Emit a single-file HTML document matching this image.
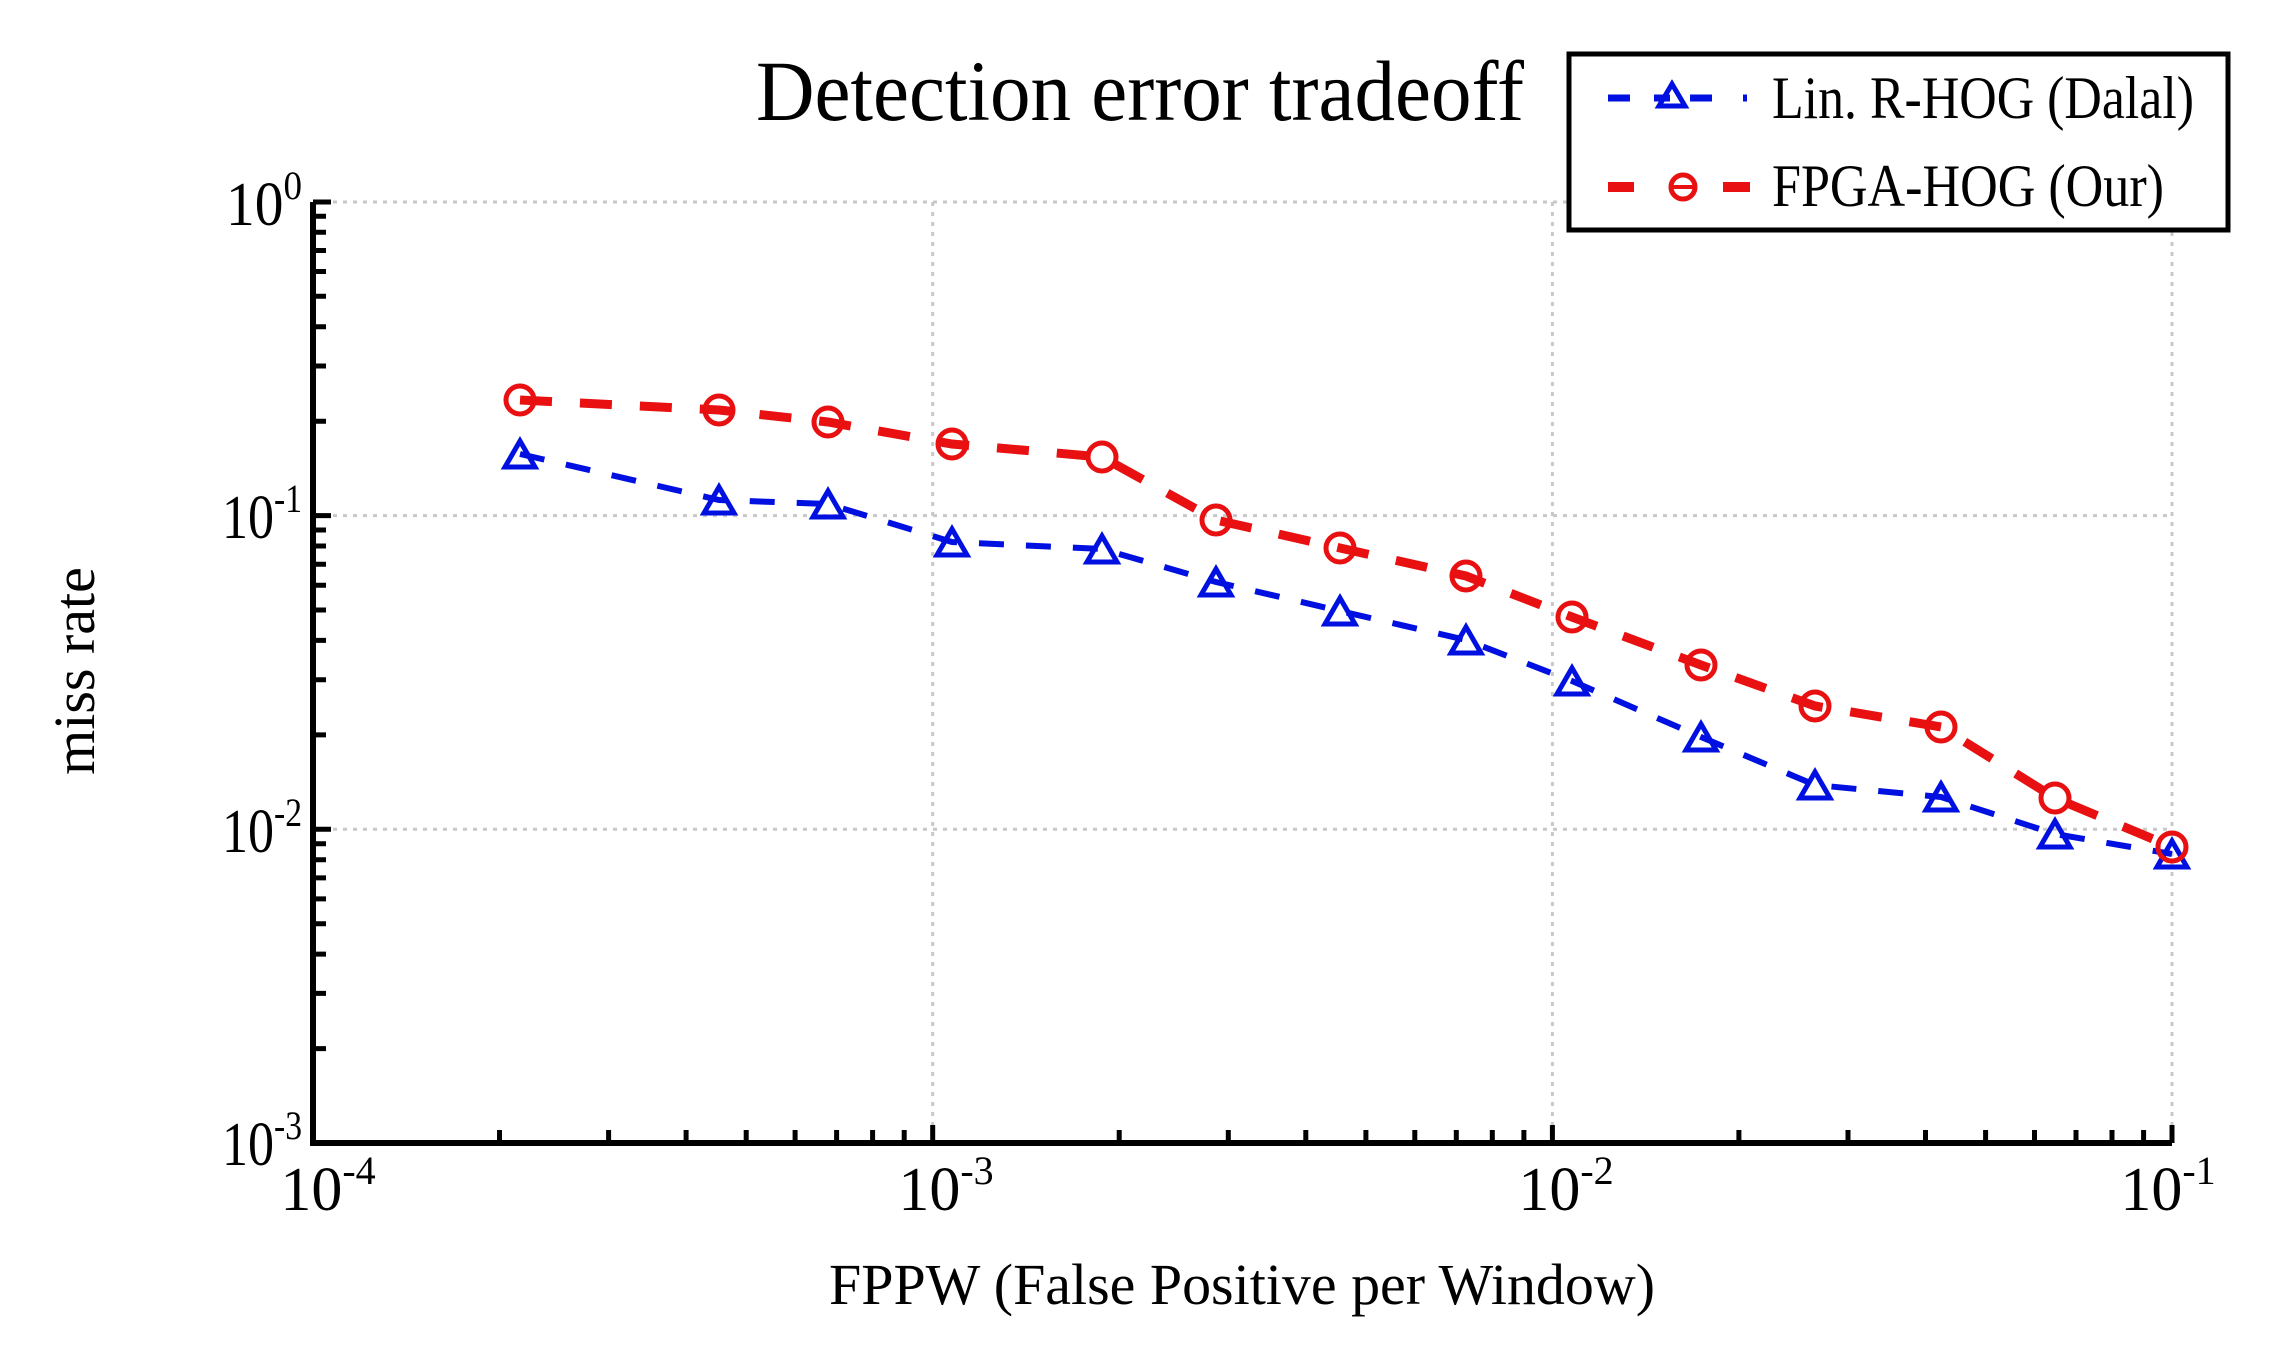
<!DOCTYPE html>
<html><head><meta charset="utf-8"><style>html,body{margin:0;padding:0;background:#fff;}svg{display:block;}</style></head>
<body>
<svg width="2295" height="1356" viewBox="0 0 2295 1356" xmlns="http://www.w3.org/2000/svg" font-family="'Liberation Serif', serif">
<rect width="2295" height="1356" fill="#fff"/>
<g stroke="#c8c8c8" stroke-width="3" stroke-dasharray="4,6">
<line x1="932.7" y1="202" x2="932.7" y2="1143"/>
<line x1="1552.4" y1="202" x2="1552.4" y2="1143"/>
<line x1="2172" y1="202" x2="2172" y2="1143"/>
<line x1="313" y1="202" x2="2172" y2="202"/>
<line x1="313" y1="515.6" x2="2172" y2="515.6"/>
<line x1="313" y1="829.3" x2="2172" y2="829.3"/>
</g>
<g stroke="#000" stroke-width="5">
<path d="M499.5 1143v-13M608.6 1143v-13M686.1 1143v-13M746.2 1143v-13M795.1 1143v-13M836.6 1143v-13M872.6 1143v-13M904.2 1143v-13M932.7 1143v-18
M1119.2 1143v-13M1228.3 1143v-13M1305.8 1143v-13M1365.9 1143v-13M1414.8 1143v-13M1456.3 1143v-13M1492.3 1143v-13M1523.9 1143v-13M1552.4 1143v-18
M1738.9 1143v-13M1848 1143v-13M1925.5 1143v-13M1985.6 1143v-13M2034.5 1143v-13M2076 1143v-13M2112 1143v-13M2143.6 1143v-13M2172 1143v-18"/>
<path d="M313 1048.6h13M313 993.4h13M313 954.1h13M313 923.7h13M313 898.9h13M313 877.9h13M313 859.7h13M313 843.7h13M313 829.3h18
M313 734.9h13M313 679.7h13M313 640.4h13M313 610h13M313 585.2h13M313 564.2h13M313 546h13M313 530h13M313 515.6h18
M313 421.2h13M313 366h13M313 326.7h13M313 296.3h13M313 271.5h13M313 250.5h13M313 232.3h13M313 216.3h13M313 202h18"/>
</g>
<path d="M313 202V1143H2172" fill="none" stroke="#000" stroke-width="6"/>
<g font-size="62" fill="#000" text-anchor="end">
<text x="302" y="1165" textLength="80" lengthAdjust="spacingAndGlyphs">10<tspan font-size="40" dy="-26">-3</tspan></text>
<text x="302" y="852" textLength="80" lengthAdjust="spacingAndGlyphs">10<tspan font-size="40" dy="-26">-2</tspan></text>
<text x="302" y="538" textLength="80" lengthAdjust="spacingAndGlyphs">10<tspan font-size="40" dy="-26">-1</tspan></text>
<text x="302" y="225" textLength="76" lengthAdjust="spacingAndGlyphs">10<tspan font-size="40" dy="-26">0</tspan></text>
</g>
<g font-size="62" fill="#000" text-anchor="middle">
<text x="328" y="1210">10<tspan font-size="40" dy="-26">-4</tspan></text>
<text x="946" y="1210">10<tspan font-size="40" dy="-26">-3</tspan></text>
<text x="1566" y="1210">10<tspan font-size="40" dy="-26">-2</tspan></text>
<text x="2168" y="1210">10<tspan font-size="40" dy="-26">-1</tspan></text>
</g>
<text x="1242" y="1304" font-size="58" text-anchor="middle" textLength="826" lengthAdjust="spacingAndGlyphs">FPPW (False Positive per Window)</text>
<text transform="translate(94,671) rotate(-90)" font-size="58" text-anchor="middle">miss rate</text>
<text x="1140" y="120" font-size="86" text-anchor="middle" textLength="768" lengthAdjust="spacingAndGlyphs">Detection error tradeoff</text>
<polyline fill="none" stroke="#0010e0" stroke-width="6" stroke-dasharray="25,22" points="520,454 719,500 828,504 952,542 1102,549 1216,582 1340,611 1466,640 1572,681 1701,737 1815,785 1941,797 2055,834 2172,854"/>
<polyline fill="none" stroke="#e81010" stroke-width="9" stroke-dasharray="32,28" points="520,400 719,410 828,422 952,444 1102,457 1216,520 1340,548 1466,576 1572,617 1701,665 1815,706 1941,727 2055,798 2172,847"/>
<g fill="none" stroke="#0010e0" stroke-width="5">
<path d="M520 441l-15 26h30z M719 487l-15 26h30z M828 491l-15 26h30z M952 529l-15 26h30z M1102 536l-15 26h30z M1216 569l-15 26h30z M1340 598l-15 26h30z M1466 627l-15 26h30z M1572 668l-15 26h30z M1701 724l-15 26h30z M1815 772l-15 26h30z M1941 784l-15 26h30z M2055 821l-15 26h30z M2172 841l-15 26h30z"/>
</g>
<g fill="none" stroke="#e81010" stroke-width="5">
<circle cx="520" cy="400" r="14"/><circle cx="719" cy="410" r="14"/><circle cx="828" cy="422" r="14"/><circle cx="952" cy="444" r="14"/><circle cx="1102" cy="457" r="14"/><circle cx="1216" cy="520" r="14"/><circle cx="1340" cy="548" r="14"/><circle cx="1466" cy="576" r="14"/><circle cx="1572" cy="617" r="14"/><circle cx="1701" cy="665" r="14"/><circle cx="1815" cy="706" r="14"/><circle cx="1941" cy="727" r="14"/><circle cx="2055" cy="798" r="14"/><circle cx="2172" cy="847" r="14"/>
</g>
<rect x="1569" y="54" width="659" height="176" fill="#fff" stroke="#000" stroke-width="5"/>
<g stroke="#0010e0" stroke-width="7">
<line x1="1608" y1="98" x2="1630" y2="98"/><line x1="1654" y1="98" x2="1670" y2="98"/><line x1="1690" y1="98" x2="1712" y2="98"/><line x1="1743" y1="98" x2="1747" y2="98"/>
<path d="M1672 84l-13 22h26z" fill="none" stroke-width="5"/>
</g>
<g stroke="#e81010" stroke-width="10">
<line x1="1608" y1="187" x2="1634" y2="187"/>
<circle cx="1683" cy="187" r="12" fill="none" stroke-width="5"/>
<line x1="1723" y1="187" x2="1750" y2="187"/>
</g>
<line x1="1671" y1="187" x2="1695" y2="187" stroke="#e81010" stroke-width="4"/>
<text x="1772" y="118" font-size="60" textLength="422" lengthAdjust="spacingAndGlyphs">Lin. R-HOG (Dalal)</text>
<text x="1772" y="206" font-size="60" textLength="392" lengthAdjust="spacingAndGlyphs">FPGA-HOG (Our)</text>
</svg>
</body></html>
